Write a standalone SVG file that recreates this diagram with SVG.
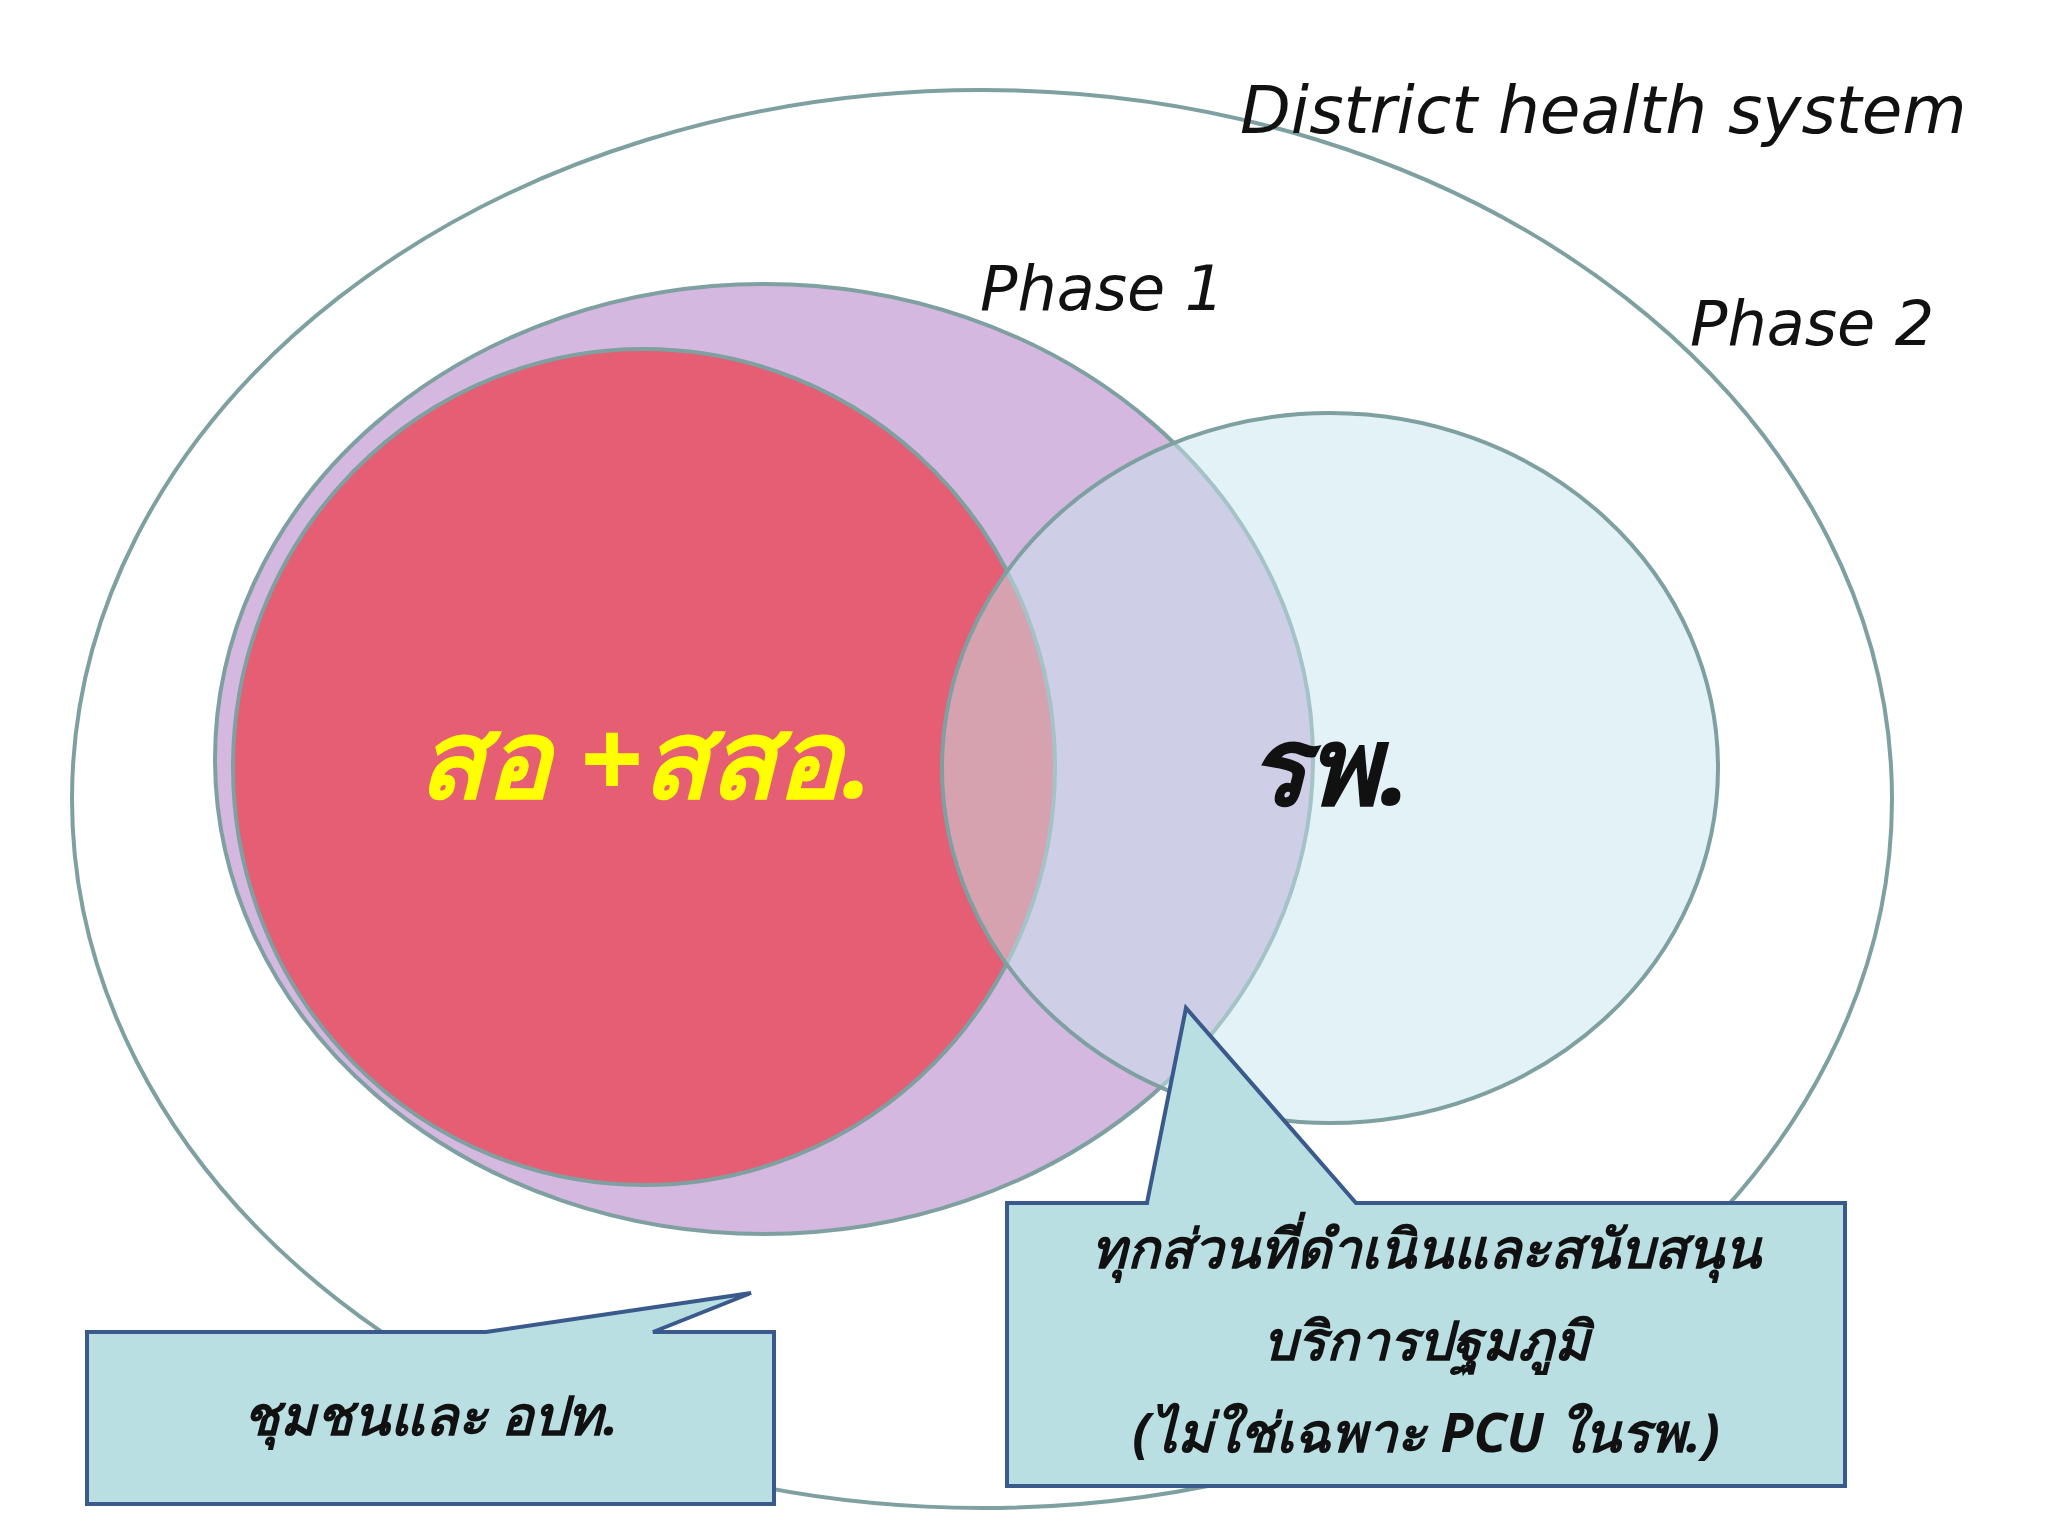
<svg xmlns="http://www.w3.org/2000/svg" width="2048" height="1536" viewBox="0 0 2048 1536">
<style>
.ring{stroke:#7FA0A0;stroke-width:4}
.lbl{font-family:"DejaVu Sans","Noto Sans",sans-serif;font-style:italic;fill:#111}
.th{font-family:"Noto Sans","DejaVu Sans",sans-serif;font-style:italic;font-weight:bold;fill:#111;text-anchor:middle}
.co{fill:#B9DFE3;stroke:#3A5A8C;stroke-width:4}
</style>
<rect width="2048" height="1536" fill="#fff"/>
<g id="district"><ellipse class="ring" cx="982" cy="799" rx="910" ry="709" fill="#fff"/>
<text class="lbl" x="1240" y="133" font-size="66">District  health system</text></g>
<g id="phase1"><ellipse class="ring" cx="764" cy="759" rx="549" ry="475" fill="#D4B8E0"/>
<text class="lbl" x="980" y="310" font-size="62">Phase 1</text></g>
<g id="so"><ellipse class="ring" cx="644" cy="767" rx="411" ry="418" fill="#E55E73"/>
<text class="th" x="646" y="798" font-size="110" style="fill:#FFFF00">สอ +สสอ.</text></g>
<g id="phase2"><ellipse class="ring" cx="1330" cy="768" rx="388" ry="355" fill="#C8E6EE" fill-opacity="0.5"/>
<text class="lbl" x="1690" y="345" font-size="62">Phase 2</text>
<text class="th" x="1330" y="805" font-size="110">รพ.</text></g>
<g id="connectors">
<path class="co" d="M87 1332 H486 L751 1293 L653 1332 H774 V1504 H87 Z"/>
<path class="co" d="M1007 1203 H1147 L1186 1008 L1356 1203 H1845 V1486 H1007 Z"/>
</g>
<g id="callout1"><text class="th" x="431" y="1435" font-size="54">ชุมชนและ อปท.</text></g>
<g id="callout2">
<text class="th" x="1426" y="1268" font-size="54">ทุกส่วนที่ดำเนินและสนับสนุน</text>
<text class="th" x="1426" y="1360" font-size="54">บริการปฐมภูมิ</text>
<text class="th" x="1426" y="1452" font-size="54">(ไม่ใช่เฉพาะ PCU ในรพ.)</text>
</g>
</svg>
